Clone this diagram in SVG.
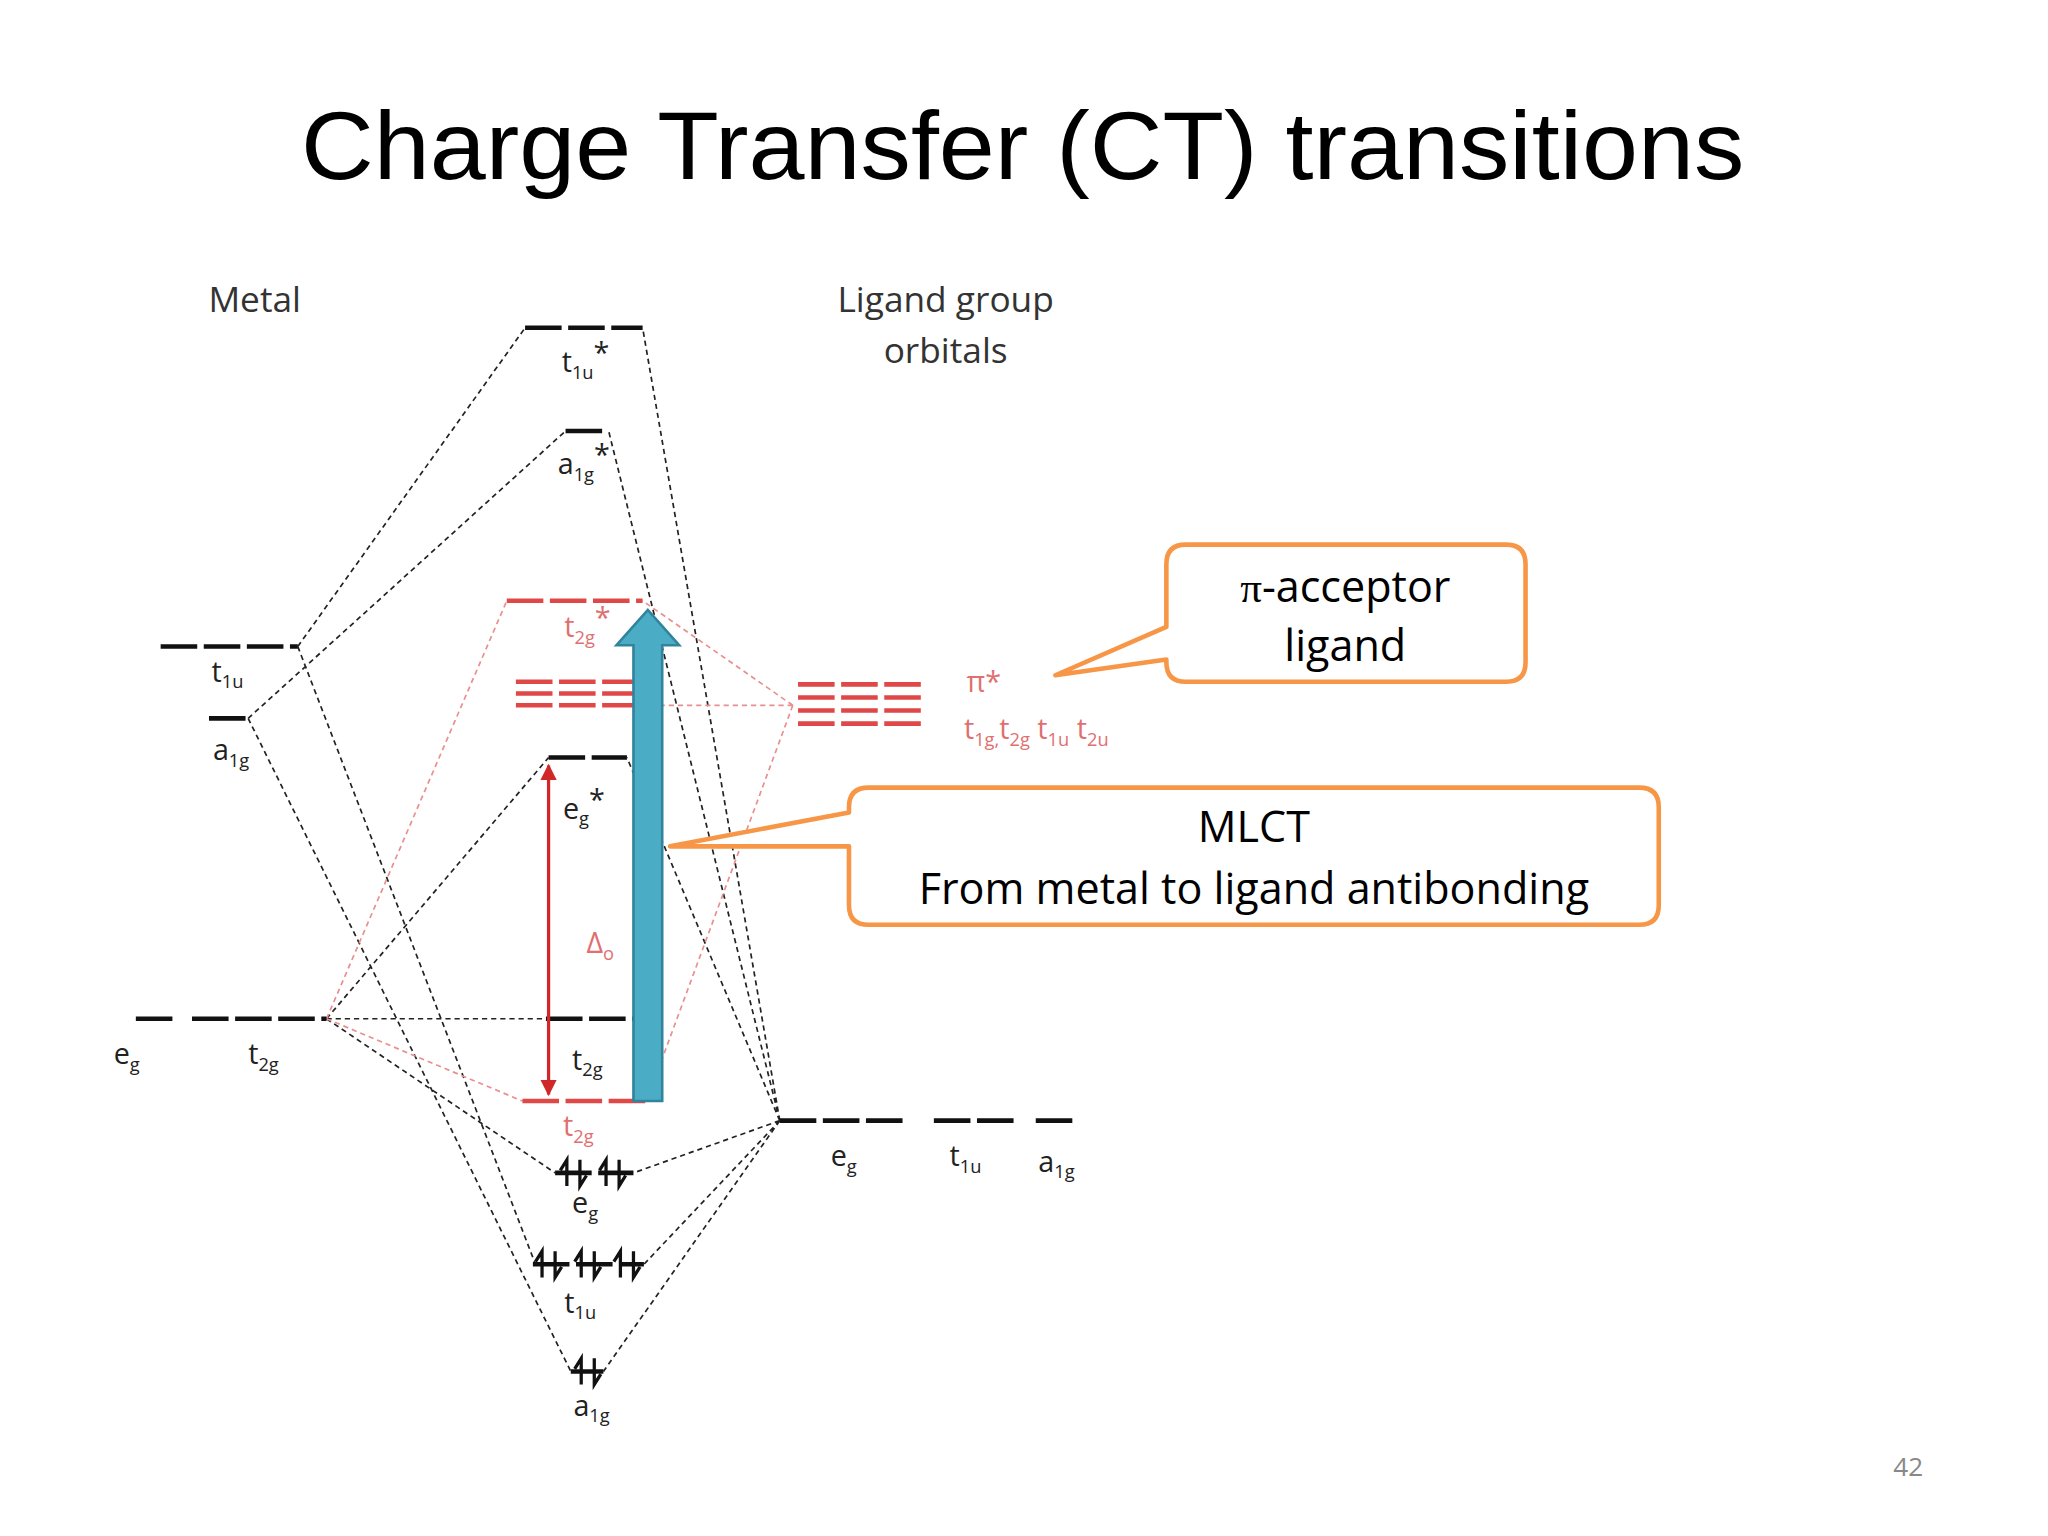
<svg xmlns="http://www.w3.org/2000/svg" width="2048" height="1536" viewBox="0 0 2048 1536">
<defs>
<style>
.lvl{stroke:#111;stroke-width:3.5;stroke-dasharray:28 5;fill:none}
.rlvl{stroke:#e04848;stroke-width:3.5;stroke-dasharray:28 5;fill:none}
.dl{stroke:#222;stroke-width:1.3;stroke-dasharray:4 3;fill:none}
.rdl{stroke:#e89090;stroke-width:1.3;stroke-dasharray:4 3;fill:none}
.lb{font-family:"Open Sans","Liberation Sans",sans-serif;font-size:22px;fill:#222}
.rlb{font-family:"Open Sans","Liberation Sans",sans-serif;font-size:22px;fill:#e07070}
.sb{font-size:14px}
.hd{font-family:"Open Sans","Liberation Sans",sans-serif;font-size:27px;fill:#333}
.co{fill:#fff;stroke:#f79646;stroke-width:3.5;stroke-linejoin:round}
.ct{font-family:"Open Sans","Liberation Sans",sans-serif;font-size:33px;fill:#000;text-anchor:middle}
.e{stroke:#111;stroke-width:2.5;fill:none}
</style>
<marker id="ra" viewBox="0 0 10 10" refX="9" refY="5" markerWidth="5" markerHeight="5" orient="auto-start-reverse"><path d="M0,0L10,5L0,10z" fill="#d02828"/></marker>
<g id="pair"><path class="e" d="M-5,10V-10L-10,-2M5,-10V10L10,2"/></g>
</defs>
<rect width="2048" height="1536" fill="#fff"/>
<g transform="scale(1.30612)">
<text id="title" x="783" y="137" font-family="'Liberation Sans',sans-serif" font-size="74" text-anchor="middle" textLength="1105" lengthAdjust="spacingAndGlyphs">Charge Transfer (CT) transitions</text>
<g id="headers">
<text class="hd" x="195" y="239" text-anchor="middle">Metal</text>
<text class="hd" x="724" y="239" text-anchor="middle">Ligand group</text>
<text class="hd" x="724" y="278" text-anchor="middle">orbitals</text>
</g>
<g id="connectors">
<path class="dl" d="M228,495L402,251M228,495L410,968M190,550L433,330M190,550L437,1050M250,780L420,580M250,780L418,780M250,780L425,898M597,858L492,251M597,858L466,330M597,858L480,580M597,858L485,898M597,858L493,968M597,858L462,1050"/>
<path class="rdl" d="M250,780L388,460M250,780L400,843M607,540L492,460M607,540L490,540M607,540L495,843"/>
</g>
<g id="metal">
<path class="lvl" d="M123,495H228"/><text class="lb" x="162" y="522">t<tspan class="sb" dy="5">1u</tspan></text>
<path class="lvl" d="M160,550H190"/><text class="lb" x="163" y="582">a<tspan class="sb" dy="5">1g</tspan></text>
<path class="lvl" d="M104,780H134M147,780H250"/>
<text class="lb" x="87" y="815">e<tspan class="sb" dy="5">g</tspan></text>
<text class="lb" x="190" y="815">t<tspan class="sb" dy="5">2g</tspan></text>
</g>
<g id="center">
<path class="lvl" d="M402,251H492"/><text class="lb" x="430" y="285">t<tspan class="sb" dy="5">1u</tspan><tspan dy="-12">*</tspan></text>
<path class="lvl" d="M433,330H466"/><text class="lb" x="427" y="363">a<tspan class="sb" dy="5">1g</tspan><tspan dy="-12">*</tspan></text>
<path class="rlvl" d="M388,460H492"/><text class="rlb" x="432" y="488">t<tspan class="sb" dy="5">2g</tspan><tspan dy="-12">*</tspan></text>
<path class="rlvl" d="M395,522H490M395,531H490M395,540H490"/>
<path class="lvl" d="M420,580H480"/><text class="lb" x="431" y="627">e<tspan class="sb" dy="5">g</tspan><tspan dy="-12">*</tspan></text>
<path class="lvl" d="M418,780H487"/><text class="lb" x="438" y="819">t<tspan class="sb" dy="5">2g</tspan></text>
<path class="rlvl" d="M400,843H495"/><text class="rlb" x="431" y="870">t<tspan class="sb" dy="5">2g</tspan></text>
<path d="M420,586V838" stroke="#d02828" stroke-width="2.5" marker-start="url(#ra)" marker-end="url(#ra)"/>
<text class="rlb" x="449" y="730">Δ<tspan class="sb" dy="5">o</tspan></text>
<path class="lvl" d="M425,898H485"/><use href="#pair" x="439" y="898"/><use href="#pair" x="469" y="898"/>
<text class="lb" x="438" y="929">e<tspan class="sb" dy="5">g</tspan></text>
<path class="lvl" d="M408,968H493"/><use href="#pair" x="420" y="968"/><use href="#pair" x="450" y="968"/><use href="#pair" x="480" y="968"/>
<text class="lb" x="432" y="1005">t<tspan class="sb" dy="5">1u</tspan></text>
<path class="lvl" d="M437,1050H462"/><use href="#pair" x="450" y="1050"/>
<text class="lb" x="439" y="1084">a<tspan class="sb" dy="5">1g</tspan></text>
</g>
<g id="ligand">
<path class="lvl" d="M597,858H695M715,858H778M793,858H823"/>
<text class="lb" x="636" y="893">e<tspan class="sb" dy="5">g</tspan></text>
<text class="lb" x="727" y="893">t<tspan class="sb" dy="5">1u</tspan></text>
<text class="lb" x="795" y="897">a<tspan class="sb" dy="5">1g</tspan></text>
<path class="rlvl" d="M611,524H710M611,534H710M611,544H710M611,554H710"/>
<text class="rlb" x="740" y="530" font-family="'Liberation Serif',serif">π*</text>
<text class="rlb" x="738" y="566">t<tspan class="sb" dy="5">1g,</tspan><tspan dy="-5">t</tspan><tspan class="sb" dy="5">2g</tspan><tspan dy="-5"> t</tspan><tspan class="sb" dy="5">1u</tspan><tspan dy="-5"> t</tspan><tspan class="sb" dy="5">2u</tspan></text>
</g>
<g id="mlct-arrow">
<path d="M485,843V494H472L496,467L520,494H507V843Z" fill="#4bacc6" stroke="#31849b" stroke-width="2"/>
</g>
<g id="callout-pi">
<path class="co" d="M908,417H1153Q1168,417 1168,432V507Q1168,522 1153,522H908Q893,522 893,507V505L808,517L893,480V432Q893,417 908,417Z"/>
<text class="ct" x="1030" y="461"><tspan font-family="'Liberation Serif',serif">π</tspan>-acceptor</text>
<text class="ct" x="1030" y="506">ligand</text>
</g>
<g id="callout-mlct">
<path class="co" d="M665,603H1255Q1270,603 1270,618V693Q1270,708 1255,708H665Q650,708 650,693V648H513L650,622V618Q650,603 665,603Z"/>
<text class="ct" x="960" y="645">MLCT</text>
<text class="ct" x="960" y="692">From metal to ligand antibonding</text>
</g>
<text id="page" x="1461" y="1130" font-family="'Open Sans',sans-serif" font-size="20" fill="#888" text-anchor="middle">42</text>
</g>
</svg>
